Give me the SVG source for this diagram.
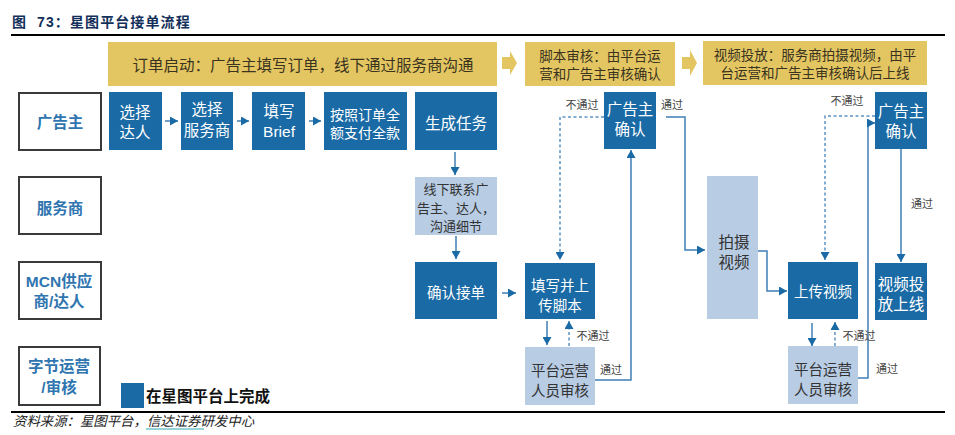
<svg xmlns="http://www.w3.org/2000/svg" width="955" height="435" viewBox="0 0 955 435">
<style>
text{font-family:"Liberation Sans","Noto Sans CJK SC",sans-serif;text-anchor:middle}
.ban{fill:#e3c662}
.ban-t{font-size:15.5px;fill:#3a3320}
.ban-s{font-size:13.5px;fill:#3a3320}
.lab{fill:#fff;stroke:#3a3a3a;stroke-width:2}
.lab-t{font-size:15.5px;font-weight:700;fill:#2f75b0}
.d{fill:#1a6aa5}
.l{fill:#b8cce4}
.w{font-size:15.5px;fill:#fff}
.w2{font-size:14px;fill:#fff}
.k{font-size:15.5px;fill:#333}
.c{font-size:11px;fill:#444}
.c2{font-size:13px;fill:#333}
.rule{stroke:#000;stroke-width:2}
.s{fill:none;stroke:#3f7fb5;stroke-width:1.5}
.da{fill:none;stroke:#5b93c2;stroke-width:1.5;stroke-dasharray:3 2.5}
.arr{fill:#e3c662}
</style>
<defs>
<marker id="a" markerUnits="userSpaceOnUse" markerWidth="9" markerHeight="9" refX="8" refY="4.5" orient="auto"><path d="M0 0L8 4.5L0 9Z" fill="#1a6aa5"/></marker>
</defs>
<text x="12" y="27" xml:space="preserve" style="text-anchor:start;font-size:14px;font-weight:700;letter-spacing:1.1px;fill:#12305a">图  73&#xFF1A;星图平台接单流程</text>
<line class="rule" x1="11" y1="35" x2="945" y2="35"/>
<line class="rule" x1="11" y1="412" x2="945" y2="412"/>

<g id="banner1"><rect class="ban" x="108" y="42" width="389" height="44"/><text class="ban-t" x="303" y="71">订单启动&#xFF1A;广告主填写订单&#xFF0C;线下通过服务商沟通</text></g>
<path id="chevron1" class="arr" d="M502 57H510V51L517 63L510 75V69H502Z"/>
<g id="banner2"><rect class="ban" x="525" y="42" width="150" height="44"/><text class="ban-s" x="600" y="61">脚本审核&#xFF1A;由平台运</text><text class="ban-s" x="600" y="79">营和广告主审核确认</text></g>
<path id="chevron2" class="arr" d="M682 57H690V50L697 63L690 76V69H682Z"/>
<g id="banner3"><rect class="ban" x="703" y="41" width="224" height="44"/><text class="ban-s" x="815" y="60">视频投放&#xFF1A;服务商拍摄视频&#xFF0C;由平</text><text class="ban-s" x="815" y="78">台运营和广告主审核确认后上线</text></g>

<g id="role-advertiser"><rect class="lab" x="19" y="93" width="82" height="57"/><text class="lab-t" x="60" y="128">广告主</text></g>
<g id="role-provider"><rect class="lab" x="19" y="177" width="82" height="57"/><text class="lab-t" x="60" y="214">服务商</text></g>
<g id="role-mcn"><rect class="lab" x="19" y="262" width="82" height="57"/><text class="lab-t" x="59" y="287">MCN供应</text><text class="lab-t" x="59" y="307">商/达人</text></g>
<g id="role-bytedance"><rect class="lab" x="19" y="347" width="81" height="58"/><text class="lab-t" x="59" y="372">字节运营</text><text class="lab-t" x="59" y="393">/审核</text></g>

<g id="n1"><rect class="d" x="109" y="92" width="53" height="58"/><text class="w" x="135" y="118">选择</text><text class="w" x="135" y="138">达人</text></g>
<g id="n2"><rect class="d" x="181" y="92" width="52" height="58"/><text class="w" x="207" y="115">选择</text><text class="w" x="207" y="136">服务商</text></g>
<g id="n3"><rect class="d" x="252" y="92" width="53" height="58"/><text class="w" x="279" y="117">填写</text><text class="w" x="279" y="137">Brief</text></g>
<g id="n4"><rect class="d" x="324" y="92" width="83" height="58"/><text class="w2" x="365" y="120">按照订单全</text><text class="w2" x="365" y="138">额支付全款</text></g>
<g id="n5"><rect class="d" x="415" y="92" width="82" height="58"/><text class="w" x="456" y="129">生成任务</text></g>
<g id="n6"><rect class="l" x="415" y="177" width="82" height="58"/><text class="c2" x="456" y="194">线下联系广</text><text class="c2" x="456" y="213">告主、达人&#xFF0C;</text><text class="c2" x="456" y="231">沟通细节</text></g>
<g id="n7"><rect class="d" x="415" y="262" width="82" height="57"/><text class="w" x="456" y="298" style="font-size:14.5px">确认接单</text></g>
<g id="n8"><rect class="d" x="525" y="263" width="70" height="56"/><text class="w" x="560" y="291" style="font-size:14.5px">填写并上</text><text class="w" x="560" y="311" style="font-size:14.5px">传脚本</text></g>
<g id="n9"><rect class="l" x="525" y="347" width="70" height="58"/><text class="k" x="560" y="376" style="font-size:14.5px">平台运营</text><text class="k" x="560" y="396" style="font-size:14.5px">人员审核</text></g>
<g id="n10"><rect class="d" x="604" y="92" width="52" height="57"/><text class="w" x="630" y="115">广告主</text><text class="w" x="630" y="135">确认</text></g>
<g id="n11"><rect class="l" x="707" y="176" width="51" height="143"/><text class="k" x="734" y="248">拍摄</text><text class="k" x="734" y="268">视频</text></g>
<g id="n12"><rect class="d" x="788" y="262" width="70" height="57"/><text class="w" x="823" y="297" style="font-size:14.5px">上传视频</text></g>
<g id="n13"><rect class="l" x="788" y="346" width="70" height="58"/><text class="k" x="823" y="375" style="font-size:14.5px">平台运营</text><text class="k" x="823" y="395" style="font-size:14.5px">人员审核</text></g>
<g id="n14"><rect class="d" x="875" y="92" width="52" height="57"/><text class="w" x="901" y="117">广告主</text><text class="w" x="901" y="137">确认</text></g>
<g id="n15"><rect class="d" x="875" y="263" width="52" height="57"/><text class="w" x="901" y="290">视频投</text><text class="w" x="901" y="310">放上线</text></g>

<g id="connectors">
<path class="s" marker-end="url(#a)" d="M165 121H178"/>
<path class="s" marker-end="url(#a)" d="M237 121H249"/>
<path class="s" marker-end="url(#a)" d="M309 121H321"/>
<path class="s" marker-end="url(#a)" d="M455 152V175"/>
<path class="s" marker-end="url(#a)" d="M456 236V259"/>
<path class="s" marker-end="url(#a)" d="M502 293H516"/>
<path class="s" marker-end="url(#a)" d="M547 321V345"/>
<path class="da" marker-end="url(#a)" d="M569 346V321"/>
<path class="s" marker-end="url(#a)" d="M595 380H631V150"/>
<path class="da" marker-end="url(#a)" d="M604 117H560V260"/>
<path class="s" marker-end="url(#a)" d="M666 117H685V250H705"/>
<path class="s" marker-end="url(#a)" d="M758 251H767V291H787"/>
<path class="s" marker-end="url(#a)" d="M812 323V346"/>
<path class="da" marker-end="url(#a)" d="M835 346V322"/>
<path class="da" marker-end="url(#a)" d="M875 116H825V260"/>
<path class="s" marker-end="url(#a)" d="M858 378H868V123H875"/>
<path class="s" marker-end="url(#a)" d="M901 149V262"/>
<text class="c" x="582" y="109">不通过</text>
<text class="c" x="672" y="109">通过</text>
<text class="c" x="593" y="340">不通过</text>
<text class="c" x="611" y="374">通过</text>
<text class="c" x="847" y="105">不通过</text>
<text class="c" x="922" y="208">通过</text>
<text class="c" x="859" y="340">不通过</text>
<text class="c" x="887" y="373">通过</text>
</g>

<rect id="legend-swatch" class="d" x="121" y="383" width="23" height="25"/>
<text x="146" y="402" style="text-anchor:start;font-size:15.5px;font-weight:700;fill:#111">在星图平台上完成</text>
<text x="13" y="426" style="text-anchor:start;font-size:13.4px;font-style:italic;fill:#222">资料来源&#xFF1A;星图平台&#xFF0C;信达证券研发中心</text>
<line x1="146" y1="429" x2="204" y2="429" stroke="#2fa7b5" stroke-width="1.2"/>
</svg>
